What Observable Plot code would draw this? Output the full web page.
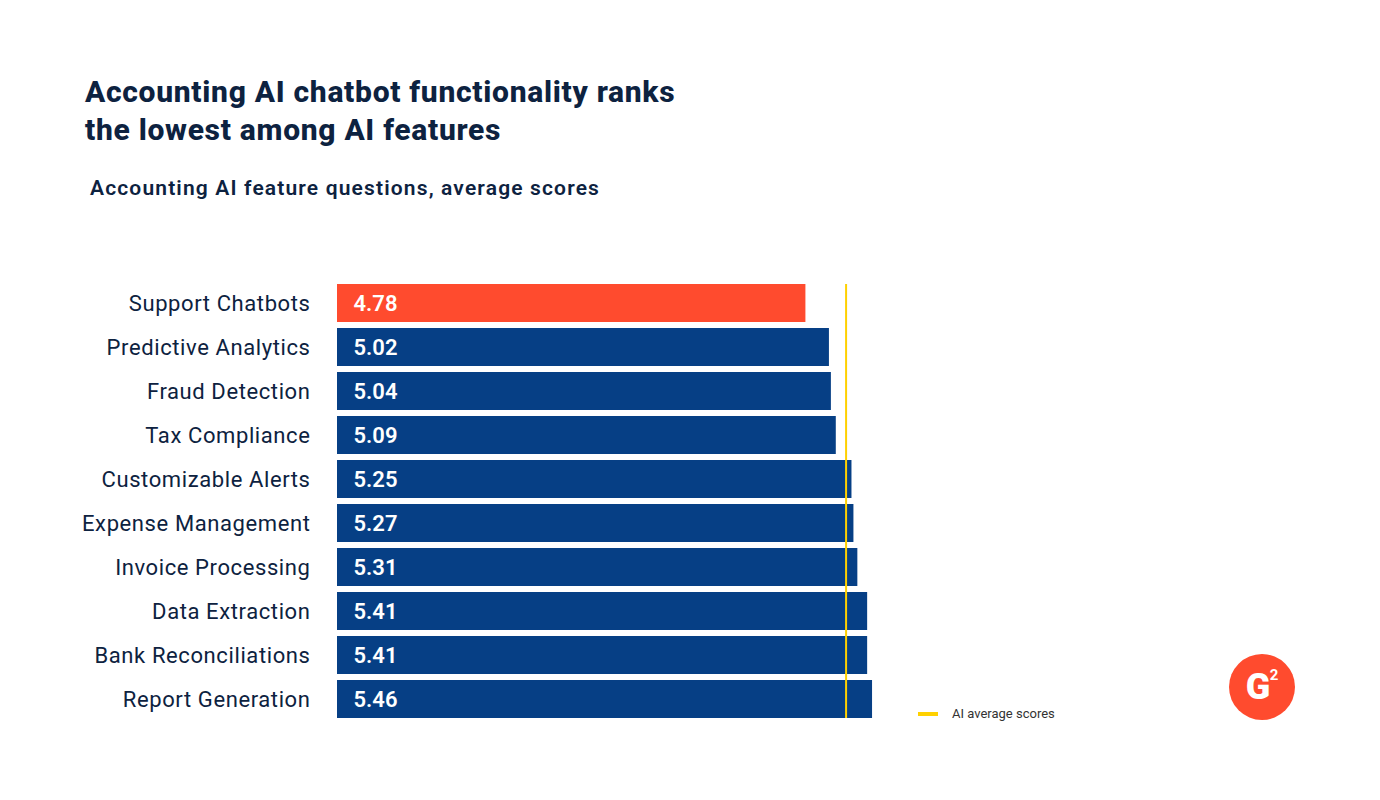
<!DOCTYPE html>
<html>
<head>
<meta charset="utf-8">
<script src="https://cdn.jsdelivr.net/npm/d3@7"></script>
<script src="https://cdn.jsdelivr.net/npm/@observablehq/plot@0.6"></script>
<style>
  html, body { margin: 0; padding: 0; background: #fff; }
  body { width: 1380px; height: 800px; position: relative; overflow: hidden; font-family: Roboto, "Noto Sans", sans-serif; color: #0d2240; }
  #title { position: absolute; left: 85px; top: 73px; font-size: 30px; font-weight: 800; line-height: 38px; letter-spacing: 0.7px; }
  #subtitle { position: absolute; left: 90px; top: 176px; font-size: 21px; font-weight: 600; letter-spacing: 1.15px; }
  #chart { position: absolute; left: 0; top: 270px; }
  #legend { position: absolute; left: 918px; top: 706px; font-size: 13px; color: #333; display: flex; align-items: center; }
  #legend .sw { width: 20px; height: 4px; background: #ffd100; margin-right: 14px; }
  #logo { position: absolute; left: 1228px; top: 653px; }
</style>
</head>
<body>
<div id="title">Accounting AI chatbot functionality ranks<br>the lowest among AI features</div>
<div id="subtitle">Accounting AI feature questions, average scores</div>
<div id="chart"></div>
<div id="legend"><div class="sw"></div><span>AI average scores</span></div>
<svg id="logo" width="68" height="68" viewBox="0 0 68 68">
  <circle cx="34" cy="34" r="33" fill="#ff4b2e"/>
  <text x="30" y="46" text-anchor="middle" font-family="Roboto, sans-serif" font-weight="900" font-size="36" fill="#fff">G</text>
  <text x="46" y="27" text-anchor="middle" font-family="Roboto, sans-serif" font-weight="700" font-size="15" fill="#fff">2</text>
</svg>
<script>
const features = ["Support Chatbots","Predictive Analytics","Fraud Detection","Tax Compliance","Customizable Alerts","Expense Management","Invoice Processing","Data Extraction","Bank Reconciliations","Report Generation"];
const scores = [4.78, 5.02, 5.04, 5.09, 5.25, 5.27, 5.31, 5.41, 5.41, 5.46];
const highlight = ["Support Chatbots"];
const aiAverage = 5.19;

const data = features.map((f, i) => ({feature: f, score: scores[i], hl: highlight.includes(f)}));

const chart = Plot.plot({
  width: 1380,
  height: 468,
  marginLeft: 337,
  marginRight: 457,
  marginTop: 14,
  marginBottom: 20,
  style: {fontFamily: "Roboto, 'Noto Sans', sans-serif", background: "transparent"},
  x: {domain: [0, 5.98], axis: null},
  y: {domain: features, paddingInner: 6 / 44, paddingOuter: 0, round: false, label: null},
  marks: [
    Plot.barX(data, {y: "feature", x: "score", fill: d => d.hl ? "#ff4b2e" : "#063f85"}),
    Plot.ruleX([aiAverage], {stroke: "#ffd100", strokeWidth: 2}),
    Plot.text(data, {y: "feature", x: 0, text: d => d.score.toFixed(2), dx: 16, textAnchor: "start", fill: "#fff", fontSize: 22, fontWeight: 600}),
    Plot.axisY({tickSize: 0, tickPadding: 27, fontSize: 22, label: null, color: "#0d2240"})
  ]
});
chart.querySelectorAll("g[aria-label='y-axis tick label']").forEach(g => g.setAttribute("letter-spacing", "0.6"));
document.getElementById("chart").appendChild(chart);
</script>
</body>
</html>
